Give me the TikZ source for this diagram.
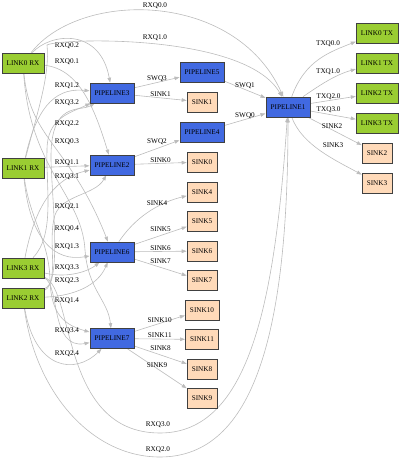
\documentclass[tikz,border=0pt]{standalone}
\usepackage{fontspec}
\setmainfont{Liberation Serif}
\usepackage{xcolor}
\usepackage{tikz}
\usetikzlibrary{positioning, arrows.meta, backgrounds}

\definecolor{linkgreen}{RGB}{154,205,50}
\definecolor{pipeblue}{RGB}{65,105,225}
\definecolor{sinkpeach}{RGB}{255,218,185}
\definecolor{flowgray}{RGB}{188,188,188}
\newcommand{\gvfont}{\fontsize{7.2}{8.5}\selectfont}

\begin{document}
\begin{tikzpicture}[x=1pt, y=-1pt, node distance=30pt, on grid,
    box/.style={draw=black!75, line width=0.6pt, minimum height=20pt,
                inner xsep=4.8pt, inner ysep=0pt, font=\gvfont},
    link/.style={box, fill=linkgreen},
    pipe/.style={box, fill=pipeblue},
    sink/.style={box, fill=sinkpeach},
    lbl/.style={font=\gvfont, text=black, inner sep=1pt},
    flow/.style={color=flowgray, line width=0.6pt, -{Triangle[length=5pt, width=3.6pt]}}]
   \useasboundingbox (0,0) rectangle (400,459);

   \node[link] (l0rx) at (23,63) {LINK0 RX};
   \node[link] (l1rx) [below=105pt of l0rx] {LINK1 RX};
   \node[link] (l3rx) [below=100pt of l1rx] {LINK3 RX};
   \node[link] (l2rx) [below=of l3rx] {LINK2 RX};

   \node[pipe] (p3) [below right=30pt and 89pt of l0rx] {PIPELINE3};
   \node[pipe] (p2) [below=72pt of p3] {PIPELINE2};
   \node[pipe] (p6) [below=87pt of p2] {PIPELINE6};
   \node[pipe] (p7) [below=86.5pt of p6] {PIPELINE7};

   \node[pipe] (p5) [above right=21pt and 90pt of p3] {PIPELINE5};
   \node[sink] (s1) [below=of p5] {SINK1};
   \node[pipe] (p4) [below=of s1] {PIPELINE4};
   \node[sink] (s0) [below=of p4] {SINK0};
   \node[sink] (s4) [below=of s0] {SINK4};
   \node[sink] (s5) [below=29.5pt of s4] {SINK5};
   \node[sink] (s6) [below=29.5pt of s5] {SINK6};
   \node[sink] (s7) [below=29.5pt of s6] {SINK7};
   \node[sink] (s10) [below=29.5pt of s7] {SINK10};
   \node[sink] (s11) [below=29.5pt of s10] {SINK11};
   \node[sink] (s8) [below=29.5pt of s11] {SINK8};
   \node[sink] (s9) [below=29.5pt of s8] {SINK9};

   \node[pipe] (p1) [below right=35pt and 86pt of p5] {PIPELINE1};
   \node[link] (l0tx) [above right=74pt and 89pt of p1] {LINK0 TX};
   \node[link] (l1tx) [below=of l0tx] {LINK1 TX};
   \node[link] (l2tx) [below=of l1tx] {LINK2 TX};
   \node[link] (l3tx) [below=of l2tx] {LINK3 TX};
   \node[sink] (s2) [below=of l3tx] {SINK2};
   \node[sink] (s3) [below=of s2] {SINK3};

   \begin{scope}[on background layer]
   % rx queues
   \draw[flow] (l0rx) .. controls (80,-10) and (235,-10) .. (p1) node[lbl] at (155,6) {RXQ0.0};
   \draw[flow] (l0rx) .. controls (50,33) and (100,27) .. (p3) node[lbl] at (67,46) {RXQ0.2};
   \draw[flow] (l0rx) .. controls (80,69) and (95,110) .. (p2) node[lbl] at (67,62) {RXQ0.1};
   \draw[flow] (l0rx) .. controls (30,140) and (70,145) .. (p6) node[lbl] at (67,142) {RXQ0.3};
   \draw[flow] (l0rx) .. controls (30,170) and (82,195) .. (85,250)
                      .. controls (88,290) and (108,300) .. (p7) node[lbl] at (67,229) {RXQ0.4};

   \draw[flow] (l1rx) .. controls (38,110) and (50,75) .. (47,45)
                      .. controls (60,38) and (245,33) .. (p1) node[lbl] at (155,38) {RXQ1.0};
   \draw[flow] (l1rx) .. controls (38,100) and (60,88) .. (p3) node[lbl] at (67,86) {RXQ1.2};
   \path[flow] (l1rx) edge node[lbl, above] {RXQ1.1} (p2);
   \draw[flow] (l1rx) .. controls (30,240) and (55,262) .. (p6) node[lbl] at (67,247) {RXQ1.3};
   \draw[flow] (l1rx) .. controls (30,220) and (49,240) .. (50,280)
                      .. controls (51,315) and (65,325) .. (p7) node[lbl] at (67,301) {RXQ1.4};

   \draw[flow] (l3rx) .. controls (75,290) and (60,433) .. (160,433)
                      .. controls (250,433) and (275,300) .. (p1) node[lbl] at (158,425) {RXQ3.0};
   \draw[flow] (l3rx) .. controls (35,205) and (55,178) .. (p2) node[lbl] at (67,177) {RXQ3.1};
   \draw[flow] (l3rx) .. controls (55,235) and (46,190) .. (47,150)
                      .. controls (47,118) and (70,113) .. (p3) node[lbl] at (67,103) {RXQ3.2};
   \draw[flow] (l3rx) .. controls (70,279) and (90,270) .. (p6) node[lbl] at (67,268) {RXQ3.3};
   \draw[flow] (l3rx) .. controls (60,285) and (50,350) .. (p7) node[lbl] at (67,331) {RXQ3.4};

   \draw[flow] (l2rx) .. controls (35,390) and (90,457) .. (160,457)
                      .. controls (255,457) and (288,330) .. (p1) node[lbl] at (158,450) {RXQ2.0};
   \draw[flow] (l2rx) .. controls (60,282) and (47,240) .. (55,215)
                      .. controls (62,195) and (95,195) .. (p2) node[lbl] at (67,207) {RXQ2.1};
   \draw[flow] (l2rx) .. controls (62,284) and (52,200) .. (51,160)
                      .. controls (50,100) and (80,112) .. (p3) node[lbl] at (67,124) {RXQ2.2};
   \draw[flow] (l2rx) .. controls (75,296) and (98,285) .. (p6) node[lbl] at (67,281) {RXQ2.3};
   \draw[flow] (l2rx) .. controls (35,370) and (75,375) .. (p7) node[lbl] at (67,354) {RXQ2.4};

   % pipeline outputs
   \path[flow]
    (p3) edge node[lbl, above] {SWQ3} (p5)
         edge node[lbl, above] {SINK1} (s1)
    (p2) edge node[lbl, above=3pt] {SWQ2} (p4)
         edge node[lbl, above] {SINK0} (s0)
    (p6) edge node[lbl, above=3pt] {SINK5} (s5)
         edge node[lbl, above] {SINK6} (s6)
         edge node[lbl, above=3pt] {SINK7} (s7)
    (p7) edge node[lbl, above] {SINK10} (s10)
         edge node[lbl, above] {SINK11} (s11)
         edge node[lbl, above=3pt] {SINK8} (s8)
         edge node[lbl, above] {SINK9} (s9)
    (p5) edge node[lbl, above] {SWQ1} (p1)
    (p4) edge node[lbl, above] {SWQ0} (p1)
    (p1) edge node[lbl, above, pos=.4] {TXQ2.0} (l2tx)
         edge node[lbl, above, pos=.4] {TXQ3.0} (l3tx)
         edge node[lbl, above, pos=.45] {SINK2} (s2);
   \draw[flow] (p6) .. controls (130,225) and (150,205) .. (s4) node[lbl] at (157,203) {SINK4};
   \draw[flow] (p1) .. controls (305,60) and (330,52) .. (l0tx) node[lbl] at (328,44) {TXQ0.0};
   \draw[flow] (p1) .. controls (320,85) and (335,75) .. (l1tx) node[lbl] at (328,72) {TXQ1.0};
   \draw[flow] (p1) .. controls (302,145) and (335,160) .. (s3) node[lbl] at (333,145) {SINK3};
   \end{scope}
\end{tikzpicture}
\end{document}
